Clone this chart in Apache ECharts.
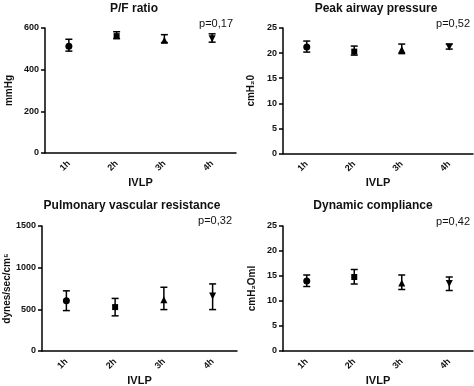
<!DOCTYPE html>
<html><head><meta charset="utf-8">
<script src="https://cdn.jsdelivr.net/npm/echarts@6/dist/echarts.min.js"></script>
<style>html,body{margin:0;padding:0;background:#fff}#c{width:474px;height:386px}</style>
</head><body><div id="c"></div>
<script>
const categories = ['1h', '2h', '3h', '4h'];
const titles = ['P/F ratio', 'Peak airway pressure', 'Pulmonary vascular resistance', 'Dynamic compliance'];
const pValues = ['p=0,17', 'p=0,52', 'p=0,32', 'p=0,42'];
const yNames = ['mmHg', 'cmH\u20820', 'dynes/sec/cm\u2075', 'cmH\u2082Oml'];
const yMax = [600, 25, 1500, 25];
const yStep = [200, 5, 500, 5];
// means and error bar ends (low, high)
const pfMean = [512, 561, 541, 549];
const pfLow = [489, 549, 530, 532];
const pfHigh = [546, 582, 568, 572];
const pawMean = [21.2, 20.3, 20.7, 21.2];
const pawLow = [20.2, 19.6, 19.9, 20.8];
const pawHigh = [22.4, 21.4, 21.8, 21.8];
const pvrMean = [602, 527, 614, 661];
const pvrLow = [485, 422, 497, 497];
const pvrHigh = [722, 631, 765, 805];
const dcMean = [14.0, 14.8, 13.6, 13.5];
const dcLow = [12.9, 13.4, 12.3, 12.1];
const dcHigh = [15.2, 16.3, 15.2, 14.8];

const means = [pfMean, pawMean, pvrMean, dcMean];
const lows = [pfLow, pawLow, pvrLow, dcLow];
const highs = [pfHigh, pawHigh, pvrHigh, dcHigh];

const symbols = ['circle', 'rect', 'triangle', 'triangle'];
const rotations = [0, 0, 0, 180];

const grids = [
  {left: 45, width: 191, top: 28, height: 125, outerBoundsMode: 'none', containLabel: false},
  {left: 283, width: 190, top: 28, height: 125.5, outerBoundsMode: 'none', containLabel: false},
  {left: 42, width: 195, top: 226, height: 125, outerBoundsMode: 'none', containLabel: false},
  {left: 283, width: 190, top: 226, height: 125, outerBoundsMode: 'none', containLabel: false}
];
const titlePos = [[129, -2], [371, -2], [127, 195], [368, 195]];
const pPos = [[228, 13], [465, 13], [227, 210], [465, 211]];
const yNameGap = [31, 27, 25, 26];
const xNameGap = [24, 24, 24, 24];

const font = '"Liberation Sans", Arial, sans-serif';
const option = {
  animation: false,
  backgroundColor: '#fff',
  title: [],
  grid: grids,
  xAxis: [], yAxis: [], series: []
};
for (let i = 0; i < 4; i++) {
  option.title.push({
    text: titles[i], left: titlePos[i][0], top: titlePos[i][1], textAlign: 'center',
    textStyle: {fontFamily: font, fontSize: 12, fontWeight: 'bold', color: '#111'}
  });
  option.title.push({
    text: pValues[i], left: pPos[i][0], top: pPos[i][1], textAlign: 'right',
    textStyle: {fontFamily: font, fontSize: 11, fontWeight: 'normal', color: '#111'}
  });
  option.xAxis.push({
    type: 'category', gridIndex: i, data: categories, boundaryGap: true,
    name: 'IVLP', nameLocation: 'middle', nameGap: xNameGap[i],
    nameTextStyle: {fontFamily: font, fontSize: 11, fontWeight: 'bold', color: '#111', verticalAlign: 'top'},
    axisLine: {lineStyle: {color: '#000', width: 1.5}},
    axisTick: {alignWithLabel: true, length: 4, lineStyle: {color: '#000', width: 1.5}},
    axisLabel: {rotate: 45, fontFamily: font, fontSize: 9, fontWeight: 'bold', color: '#111', margin: 9}
  });
  option.yAxis.push({
    type: 'value', gridIndex: i, min: 0, max: yMax[i], interval: yStep[i],
    name: yNames[i], nameLocation: 'middle', nameGap: yNameGap[i], nameRotate: 90,
    nameTextStyle: {fontFamily: font, fontSize: 10, fontWeight: 'bold', color: '#111'},
    splitLine: {show: false},
    axisLine: {show: true, lineStyle: {color: '#000', width: 1.5}},
    axisTick: {show: true, length: 4, lineStyle: {color: '#000', width: 1.5}},
    axisLabel: {fontFamily: font, fontSize: 9, fontWeight: 'bold', color: '#111', margin: 6,
      formatter: function (v) { return String(v); }}
  });
  const errData = categories.map((c, j) => [j, lows[i][j], highs[i][j]]);
  option.series.push({
    type: 'custom', xAxisIndex: i, yAxisIndex: i, data: errData,
    renderItem: function (params, api) {
      const x = api.value(0);
      const lo = api.coord([x, api.value(1)]);
      const hi = api.coord([x, api.value(2)]);
      const w = 3.5;
      const st = {stroke: '#000', lineWidth: 1.5, fill: null};
      return {type: 'group', children: [
        {type: 'line', shape: {x1: lo[0], y1: lo[1], x2: hi[0], y2: hi[1]}, style: st},
        {type: 'line', shape: {x1: lo[0] - w, y1: lo[1], x2: lo[0] + w, y2: lo[1]}, style: st},
        {type: 'line', shape: {x1: hi[0] - w, y1: hi[1], x2: hi[0] + w, y2: hi[1]}, style: st}
      ]};
    },
    z: 2
  });
  option.series.push({
    type: 'scatter', xAxisIndex: i, yAxisIndex: i,
    data: categories.map((c, j) => ({
      value: [j, means[i][j]], symbol: symbols[j], symbolRotate: rotations[j],
      symbolSize: symbols[j] === 'rect' ? 6 : 7
    })),
    itemStyle: {color: '#000', opacity: 1},
    z: 3
  });
}
const chart = echarts.init(document.getElementById('c'), null, {renderer: 'canvas'});
chart.setOption(option);
</script></body></html>
